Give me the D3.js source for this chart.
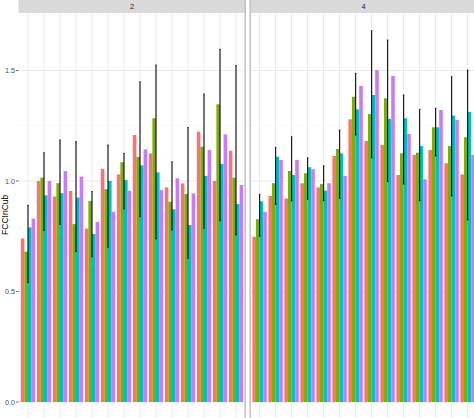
<!DOCTYPE html>
<html><head><meta charset="utf-8">
<script src="https://cdn.jsdelivr.net/npm/d3@7"></script>
<style>html,body{margin:0;padding:0;background:#fff;}svg{display:block;font-family:"Liberation Sans",Arial,sans-serif;}</style>
</head><body>
<script>
// ---- data ----
const panels = ["2", "4"];
const groups = ["1","2","3","4","5","6","7","8","9","10","11","12","13","14"];
const series = ["a","b","c","d"];
const colors = ["#F8766D", "#7CAE00", "#00BFC4", "#C77CFF"];
const yTicks = [0.0, 0.5, 1.0, 1.5];
const yLabel = "FCCInCub";

// values per panel: [group][series]
const values2 = [
  [0.74, 0.68, 0.79, 0.83],
  [1.00, 1.015, 0.935, 1.00],
  [0.93, 0.99, 0.945, 1.045],
  [0.955, 0.805, 0.925, 1.02],
  [0.785, 0.91, 0.76, 0.815],
  [1.055, 0.963, 1.00, 0.861],
  [1.03, 1.085, 1.004, 0.956],
  [1.208, 1.109, 1.071, 1.143],
  [1.125, 1.284, 1.039, 0.959],
  [0.971, 0.906, 0.872, 1.012],
  [0.989, 0.941, 0.801, 0.944],
  [1.223, 1.155, 1.023, 1.14],
  [1.00, 1.347, 1.077, 1.211],
  [1.137, 1.015, 0.896, 0.982]
];
const values4 = [
  [0.748, 0.827, 0.908, 0.86],
  [0.932, 0.99, 1.11, 1.095],
  [0.921, 1.045, 1.027, 1.095],
  [0.99, 1.035, 1.062, 1.053],
  [0.971, 0.986, 0.956, 0.99],
  [1.113, 1.145, 1.125, 1.023],
  [1.279, 1.381, 1.324, 1.43],
  [1.181, 1.303, 1.389, 1.502],
  [1.163, 1.374, 1.281, 1.475],
  [1.027, 1.125, 1.284, 1.213],
  [1.118, 1.128, 1.158, 1.008],
  [1.14, 1.243, 1.243, 1.321],
  [1.08, 1.158, 1.296, 1.276],
  [1.03, 1.198, 1.312, 1.118]
];
// error bar extents per group
const errLo2 = [0.54, 0.775, 0.804, 0.68, 0.657, 0.70, 0.873, 0.838, 0.738, 0.778, 0.65, 0.786, 0.82, 0.756];
const errHi2 = [0.89, 1.128, 1.186, 1.178, 0.952, 1.163, 1.125, 1.449, 1.525, 1.087, 1.242, 1.394, 1.596, 1.522];
const errLo4 = [0.75, 0.894, 0.91, 0.917, 0.911, 0.921, 1.208, 1.105, 0.997, 0.986, 0.911, 1.113, 0.932, 0.824];
const errHi4 = [0.94, 1.152, 1.20, 1.105, 1.069, 1.231, 1.487, 1.68, 1.638, 1.389, 1.324, 1.329, 1.472, 1.502];

const panelData = [
  {name: panels[0], values: values2, lo: errLo2, hi: errHi2},
  {name: panels[1], values: values4, lo: errLo4, hi: errHi4}
];

// ---- layout ----
const W = 474, H = 418;
const stripH = 13;
const panelW = 227.2;
const panelX = [18.4, 250];
const panelTop = stripH, panelBottom = 420.6;

const svg = d3.select("body").append("svg").attr("width", W).attr("height", H);

const y = d3.scaleLinear().domain([-0.084, 1.76]).range([panelBottom, panelTop]);

panelData.forEach((p, pi) => {
  const x0 = panelX[pi];
  const x = d3.scalePoint().domain(groups).range([x0, x0 + panelW]).padding(0.6);
  const step = x.step();
  const xs = d3.scaleBand().domain(series).range([-0.45 * step, 0.45 * step]).padding(0);
  const g = svg.append("g");

  const clipId = "clip" + pi;
  svg.append("clipPath").attr("id", clipId).append("rect")
    .attr("x", x0).attr("y", panelTop).attr("width", panelW).attr("height", panelBottom - panelTop);
  const pg = g.append("g").attr("clip-path", `url(#${clipId})`);

  pg.append("rect").attr("x", x0).attr("y", panelTop).attr("width", panelW)
    .attr("height", panelBottom - panelTop).attr("fill", "#fff");
  [0.25, 0.75, 1.25, 1.75].forEach(v => {
    pg.append("line").attr("x1", x0).attr("x2", x0 + panelW).attr("y1", y(v)).attr("y2", y(v))
      .attr("stroke", "#f4f4f4").attr("stroke-width", 0.6);
  });
  yTicks.forEach(v => {
    pg.append("line").attr("x1", x0).attr("x2", x0 + panelW).attr("y1", y(v)).attr("y2", y(v))
      .attr("stroke", "#ebebeb").attr("stroke-width", 1);
  });
  groups.forEach(gr => {
    pg.append("line").attr("x1", x(gr)).attr("x2", x(gr)).attr("y1", panelTop).attr("y2", panelBottom)
      .attr("stroke", "#ebebeb").attr("stroke-width", 1);
  });

  groups.forEach((gr, gi) => {
    series.forEach((s, si) => {
      const v = p.values[gi][si];
      pg.append("rect")
        .attr("x", x(gr) + xs(s))
        .attr("width", xs.bandwidth())
        .attr("y", y(v))
        .attr("height", y(0) - y(v))
        .attr("fill", colors[si]);
    });
  });

  groups.forEach((gr, gi) => {
    const cx = x(gr);
    pg.append("line").attr("x1", cx).attr("x2", cx)
      .attr("y1", y(p.hi[gi])).attr("y2", y(p.lo[gi]))
      .attr("stroke", "#000").attr("stroke-width", 1.2).attr("stroke-opacity", 0.88);
    [p.hi[gi], p.lo[gi]].forEach(v => {
      pg.append("line").attr("x1", cx - 0.8).attr("x2", cx + 0.8)
        .attr("y1", y(v)).attr("y2", y(v))
        .attr("stroke", "#000").attr("stroke-width", 1).attr("stroke-opacity", 0.7);
    });
  });

  svg.append("rect").attr("x", x0).attr("y", 0).attr("width", panelW).attr("height", stripH)
    .attr("fill", "#d9d9d9");
  svg.append("text").attr("x", x0 + panelW / 2).attr("y", stripH / 2)
    .attr("dy", "0.35em").attr("text-anchor", "middle")
    .attr("font-size", 7.5).attr("fill", "#1a1a1a").text(p.name);
});

[245.2, 250.2].forEach(xx => {
  svg.append("line").attr("x1", xx).attr("x2", xx).attr("y1", 0).attr("y2", H)
    .attr("stroke", "#c4c4c4").attr("stroke-width", 1.6);
});

const ax = svg.append("g");
yTicks.forEach(v => {
  ax.append("line").attr("x1", 16.2).attr("x2", 18.6).attr("y1", y(v)).attr("y2", y(v))
    .attr("stroke", "#333").attr("stroke-width", 0.8);
  ax.append("text").attr("x", 15).attr("y", y(v)).attr("dy", "0.35em")
    .attr("text-anchor", "end").attr("font-size", 7.2).attr("fill", "#4d4d4d")
    .text(d3.format(".1f")(v));
});
svg.append("text")
  .attr("transform", `translate(8,${(panelTop + panelBottom) / 2 - 2}) rotate(-90)`)
  .attr("text-anchor", "middle").attr("font-size", 8.5).attr("fill", "#000")
  .text(yLabel);
</script>
</body></html>
